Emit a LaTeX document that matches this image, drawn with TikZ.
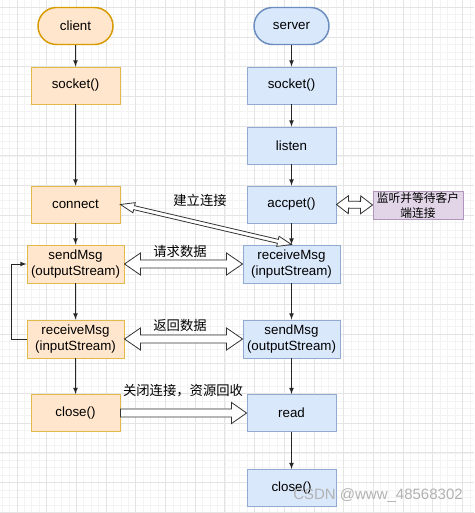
\documentclass[tikz,border=0pt]{standalone}
\usepackage{fontspec}
\setmainfont{Liberation Sans}
\newfontfamily\cjk{Noto Sans CJK SC}
\usetikzlibrary{arrows}
\usetikzlibrary{shapes.misc}
\usetikzlibrary{calc}
\tikzset{>=latex}

\definecolor{clientfill}{HTML}{FFE6CC}
\definecolor{clientline}{HTML}{D79B00}
\definecolor{serverfill}{HTML}{DAE8FC}
\definecolor{serverline}{HTML}{6C8EBF}
\definecolor{notefill}{HTML}{E1D5E7}
\definecolor{noteline}{HTML}{9673A6}
\definecolor{gridlo}{HTML}{F3F3F3}
\definecolor{gridhi}{HTML}{E4E4E4}

% Hollow arrow with a head at both ends: from, to, shaft half width, head half width, head length.
\newcommand{\dblarrow}[5]{%
  \path ($(#1)!#5!(#2)$) coordinate (ha) ($(#2)!#5!(#1)$) coordinate (hb);
  \draw[flexarrow] (#1) -- ($(ha)!#4!-90:(#2)$) -- ($(ha)!#3!-90:(#2)$)
    -- ($(hb)!#3!90:(#1)$) -- ($(hb)!#4!90:(#1)$) -- (#2)
    -- ($(hb)!#4!-90:(#1)$) -- ($(hb)!#3!-90:(#1)$)
    -- ($(ha)!#3!90:(#2)$) -- ($(ha)!#4!90:(#2)$) -- cycle;}
% Hollow arrow with one head.
\newcommand{\sglarrow}[5]{%
  \path ($(#2)!#5!(#1)$) coordinate (hb);
  \draw[flexarrow] ($(#1)!#3!-90:(#2)$) -- ($(hb)!#3!90:(#1)$) -- ($(hb)!#4!90:(#1)$)
    -- (#2) -- ($(hb)!#4!-90:(#1)$) -- ($(hb)!#3!-90:(#1)$) -- ($(#1)!#3!90:(#2)$) -- cycle;}

\begin{document}
\begin{tikzpicture}[x=0.75pt, y=-0.75pt,
    every node/.style={font=\fontsize{10}{11.5}\selectfont, inner sep=0pt, align=center},
    clientstart/.style={rounded rectangle, draw=clientline, line width=1.1pt, fill=clientfill, minimum width=56.25pt, minimum height=27.75pt},
    serverstart/.style={rounded rectangle, draw=serverline, line width=1.1pt, fill=serverfill, minimum width=56.25pt, minimum height=27.75pt},
    clientbox/.style={rectangle, draw=clientline!70, line width=0.7pt, fill=clientfill, minimum width=66.75pt, minimum height=27.75pt},
    serverbox/.style={rectangle, draw=serverline!75, line width=0.7pt, fill=serverfill, minimum width=66.75pt, minimum height=27.75pt},
    widebox/.style={minimum width=72.75pt, minimum height=28.5pt},
    notebox/.style={rectangle, draw=noteline!75, line width=0.7pt, fill=notefill, minimum width=67.5pt, minimum height=21pt, font=\cjk\fontsize{8.8}{11.25}\selectfont},
    flexarrow/.style={draw=black!80, fill=white, line width=0.6pt, line join=miter},
    flow/.style={->, line width=0.6pt, black!85},
    cnlabel/.style={font=\cjk\fontsize{10}{12}\selectfont}]

    % Background and grid.
    \useasboundingbox (0,0) rectangle (474,513);
    \fill[white] (0,0) rectangle (474,513);
    \foreach \i in {0,...,63} \draw[gridlo, line width=0.4pt] ({2.05+\i*7.425},0) -- ({2.05+\i*7.425},513);
    \foreach \j in {0,...,68} \draw[gridlo, line width=0.4pt] (0,{7.3+\j*7.425}) -- (474,{7.3+\j*7.425});
    \foreach \i in {0,...,15} \draw[gridhi, line width=0.5pt] ({16.9+\i*29.7},0) -- ({16.9+\i*29.7},513);
    \foreach \j in {0,...,17} \draw[gridhi, line width=0.5pt] (0,{7.3+\j*29.7}) -- (474,{7.3+\j*29.7});

    % Client column.
    \node[clientstart] (client) at (75.5, 26) {client};
    \node[clientbox] (csock) at (75.5, 85.5) {socket()};
    \node[clientbox] (cconn) at (75.5, 204.5) {connect};
    \node[clientbox, widebox] (csend) at (75.5, 264) {sendMsg\\(outputStream)};
    \node[clientbox, widebox] (crecv) at (75.5, 339) {receiveMsg\\(inputStream)};
    \node[clientbox] (cclose) at (75.5, 413) {close()};

    % Server column.
    \node[serverstart] (server) at (291.5, 26) {server};
    \node[serverbox] (ssock) at (291.5, 85.5) {socket()};
    \node[serverbox] (slisten) at (291.5, 145.5) {listen};
    \node[serverbox] (saccept) at (291.5, 204.5) {accpet()};
    \node[serverbox, widebox] (srecv) at (291.5, 264) {receiveMsg\\(inputStream)};
    \node[serverbox, widebox] (ssend) at (291.5, 339) {sendMsg\\(outputStream)};
    \node[serverbox] (sread) at (291.5, 413) {read};
    \node[serverbox] (sclose) at (291.5, 488) {close()};
    \node[notebox] (note) at (418, 205) {监听并等待客户\\端连接};

    % Messages between client and server.
    \dblarrow{cconn.east}{srecv.north}{1.5pt}{3.9pt}{10.5pt}
    \dblarrow{saccept.east}{note.west}{2.6pt}{6.75pt}{9pt}
    \dblarrow{csend.east}{srecv.west}{3pt}{8.25pt}{12pt}
    \dblarrow{crecv.east}{ssend.west}{3pt}{8.25pt}{12pt}
    \sglarrow{cclose.east}{sread.west}{3pt}{7.9pt}{11.25pt}
    \node[cnlabel] (lbconn) at (200, 200) {建立连接};
    \node[cnlabel] (lbreq) at (180, 251) {请求数据};
    \node[cnlabel] (lbresp) at (180, 325) {返回数据};
    \node[cnlabel] (lbclose) at (183, 391) {关闭连接，资源回收};

    % Control flow.
    \foreach \a/\b in {client/csock, csock/cconn, cconn/csend, csend/crecv, crecv/cclose,
        server/ssock, ssock/slisten, slisten/saccept, saccept/srecv, srecv/ssend, ssend/sread, sread/sclose}
      \draw[flow] (\a) -- (\b);
    \draw[flow] (crecv.west) -- ++(-15,0) |- (csend.west);

    % Watermark.
    \node[font=\fontsize{11.25}{13}\selectfont, text=black!30] (mark) at (378, 496) {CSDN @www\_48568302};
\end{tikzpicture}
\end{document}
